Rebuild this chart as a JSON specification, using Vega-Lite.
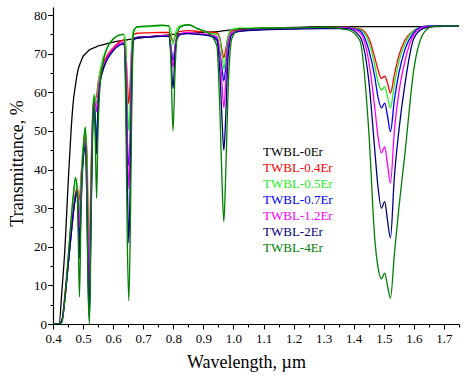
{
  "$schema": "https://vega.github.io/schema/vega-lite/v6.json",
  "width": 406,
  "height": 317,
  "autosize": {"type": "none"},
  "padding": {"left": 53, "top": 7, "right": 15, "bottom": 52},
  "background": "white",
  "config": {"view": {"stroke": null}, "font": "Liberation Serif"},
  "data": {"values": [
    {"x":0.40,"k0":0,"k04":0,"k05":0,"k07":0,"k12":0,"k2":0,"k4":0},
    {"x":0.42,"k0":0,"k04":0,"k05":0,"k07":0,"k12":0,"k2":0,"k4":0},
    {"x":0.43,"k0":9,"k04":1,"k05":1,"k07":1,"k12":1,"k2":1,"k4":0.5},
    {"x":0.44,"k0":20,"k04":8,"k05":7,"k07":7,"k12":7,"k2":7,"k4":7},
    {"x":0.45,"k0":36,"k04":16,"k05":16,"k07":15,"k12":15,"k2":15,"k4":17},
    {"x":0.46,"k0":50,"k04":24,"k05":26,"k07":23,"k12":23,"k2":23,"k4":27},
    {"x":0.468,"k0":58,"k04":30,"k05":33,"k07":29,"k12":29,"k2":29,"k4":34},
    {"x":0.475,"k0":62,"k04":34,"k05":37.5,"k07":33,"k12":33,"k2":33,"k4":38},
    {"x":0.48,"k0":64.5,"k04":35,"k05":36,"k07":34.5,"k12":34.5,"k2":34,"k4":35},
    {"x":0.484,"k0":66,"k04":34,"k05":33,"k07":30,"k12":31,"k2":28,"k4":22},
    {"x":0.488,"k0":67,"k04":32,"k05":29,"k07":22,"k12":25,"k2":17,"k4":7},
    {"x":0.493,"k0":68,"k04":38,"k05":37,"k07":33,"k12":34,"k2":30,"k4":28},
    {"x":0.50,"k0":69.3,"k04":45,"k05":46,"k07":43,"k12":43,"k2":42,"k4":44},
    {"x":0.508,"k0":70,"k04":49,"k05":51,"k07":47,"k12":47.5,"k2":46,"k4":51},
    {"x":0.513,"k0":70.4,"k04":44,"k05":42,"k07":35,"k12":38,"k2":30,"k4":28},
    {"x":0.517,"k0":70.7,"k04":28,"k05":25,"k07":15,"k12":20,"k2":10,"k4":8},
    {"x":0.521,"k0":71,"k04":18,"k05":14,"k07":4,"k12":9,"k2":1.5,"k4":0},
    {"x":0.526,"k0":71.2,"k04":38,"k05":36,"k07":28,"k12":32,"k2":25,"k4":22},
    {"x":0.532,"k0":71.4,"k04":54,"k05":55,"k07":52,"k12":53,"k2":51,"k4":52},
    {"x":0.537,"k0":71.6,"k04":58,"k05":59.5,"k07":57,"k12":58,"k2":56.5,"k4":59},
    {"x":0.541,"k0":71.7,"k04":58.5,"k05":58,"k07":53,"k12":57,"k2":50,"k4":46},
    {"x":0.545,"k0":71.8,"k04":59,"k05":57,"k07":46,"k12":55,"k2":44,"k4":32.6},
    {"x":0.549,"k0":72,"k04":62,"k05":61,"k07":55,"k12":59,"k2":54,"k4":48},
    {"x":0.555,"k0":72.1,"k04":64.5,"k05":65,"k07":62,"k12":63,"k2":61.5,"k4":60},
    {"x":0.565,"k0":72.3,"k04":67,"k05":68.5,"k07":65.5,"k12":66,"k2":65.5,"k4":67},
    {"x":0.58,"k0":72.6,"k04":69.5,"k05":71.5,"k07":68.5,"k12":69,"k2":68.5,"k4":71.5},
    {"x":0.60,"k0":73,"k04":71.5,"k05":73.8,"k07":70.8,"k12":71.2,"k2":70.8,"k4":73.8},
    {"x":0.62,"k0":73.3,"k04":73,"k05":74.8,"k07":72.2,"k12":72.6,"k2":72.2,"k4":74.8},
    {"x":0.635,"k0":73.5,"k04":73.5,"k05":75,"k07":72.6,"k12":73,"k2":72.5,"k4":75},
    {"x":0.642,"k0":73.6,"k04":71,"k05":73,"k07":66,"k12":68,"k2":62,"k4":55},
    {"x":0.647,"k0":73.6,"k04":63,"k05":58,"k07":48,"k12":48,"k2":38,"k4":22},
    {"x":0.652,"k0":73.7,"k04":57,"k05":50,"k07":41,"k12":35,"k2":21,"k4":6},
    {"x":0.657,"k0":73.7,"k04":63,"k05":58,"k07":50,"k12":48,"k2":38,"k4":24},
    {"x":0.662,"k0":73.8,"k04":72,"k05":73,"k07":68,"k12":68,"k2":63,"k4":56},
    {"x":0.668,"k0":73.8,"k04":75,"k05":76.3,"k07":73.8,"k12":74,"k2":73.5,"k4":75.5},
    {"x":0.68,"k0":74,"k04":75.3,"k05":76.8,"k07":74.2,"k12":74.2,"k2":74.2,"k4":77},
    {"x":0.72,"k0":74.4,"k04":75.4,"k05":77,"k07":74.4,"k12":74.4,"k2":74.3,"k4":77.2},
    {"x":0.76,"k0":74.7,"k04":75.5,"k05":77.2,"k07":74.6,"k12":74.6,"k2":74.5,"k4":77.4},
    {"x":0.785,"k0":74.9,"k04":75.5,"k05":77.2,"k07":74.7,"k12":74.7,"k2":74.5,"k4":77.2},
    {"x":0.792,"k0":75,"k04":74.5,"k05":76,"k07":72,"k12":72,"k2":70,"k4":68},
    {"x":0.799,"k0":75,"k04":73,"k05":72.5,"k07":68,"k12":66.5,"k2":61,"k4":50},
    {"x":0.806,"k0":75,"k04":74.5,"k05":75,"k07":72,"k12":72,"k2":70,"k4":66},
    {"x":0.813,"k0":75.1,"k04":75.5,"k05":76.5,"k07":74.5,"k12":74.5,"k2":74,"k4":75},
    {"x":0.825,"k0":75.2,"k04":75.8,"k05":77.3,"k07":75.2,"k12":75.2,"k2":75,"k4":77},
    {"x":0.85,"k0":75.3,"k04":76,"k05":77.5,"k07":75.3,"k12":75.5,"k2":75.2,"k4":77.5},
    {"x":0.88,"k0":75.4,"k04":75.8,"k05":76.5,"k07":75.1,"k12":75.2,"k2":75,"k4":76.5},
    {"x":0.92,"k0":75.6,"k04":75.6,"k05":75.3,"k07":74.8,"k12":75,"k2":74.6,"k4":75.2},
    {"x":0.945,"k0":75.7,"k04":75.4,"k05":75,"k07":74,"k12":74.4,"k2":73.5,"k4":72},
    {"x":0.955,"k0":75.8,"k04":74,"k05":73.5,"k07":70,"k12":70,"k2":65,"k4":55},
    {"x":0.962,"k0":75.9,"k04":71,"k05":69.5,"k07":66,"k12":62,"k2":53,"k4":37},
    {"x":0.968,"k0":76,"k04":69,"k05":66,"k07":63,"k12":56,"k2":45,"k4":26.5},
    {"x":0.974,"k0":76,"k04":71,"k05":69,"k07":66,"k12":62,"k2":53,"k4":38},
    {"x":0.982,"k0":76.1,"k04":74.5,"k05":74.5,"k07":72.5,"k12":72,"k2":69,"k4":60},
    {"x":0.995,"k0":76.2,"k04":76,"k05":76.3,"k07":75.5,"k12":75.5,"k2":75,"k4":74},
    {"x":1.02,"k0":76.3,"k04":76.4,"k05":76.6,"k07":76,"k12":76,"k2":75.8,"k4":76.5},
    {"x":1.10,"k0":76.6,"k04":76.6,"k05":76.6,"k07":76.3,"k12":76.3,"k2":76.2,"k4":76.6},
    {"x":1.20,"k0":76.8,"k04":76.7,"k05":76.7,"k07":76.5,"k12":76.5,"k2":76.4,"k4":76.7},
    {"x":1.30,"k0":77,"k04":76.8,"k05":76.8,"k07":76.6,"k12":76.6,"k2":76.5,"k4":76.8},
    {"x":1.38,"k0":77,"k04":76.8,"k05":76.8,"k07":76.7,"k12":76.7,"k2":76.5,"k4":76.2},
    {"x":1.42,"k0":77,"k04":76.5,"k05":76.3,"k07":76,"k12":75.5,"k2":74.5,"k4":73.5},
    {"x":1.45,"k0":77,"k04":74,"k05":73,"k07":71,"k12":68,"k2":63,"k4":50},
    {"x":1.47,"k0":77,"k04":69,"k05":67,"k07":64,"k12":56,"k2":45,"k4":22},
    {"x":1.48,"k0":77,"k04":66,"k05":63,"k07":59,"k12":49,"k2":36,"k4":15},
    {"x":1.492,"k0":77,"k04":63.6,"k05":60.6,"k07":56,"k12":44.3,"k2":30,"k4":11.7},
    {"x":1.503,"k0":77,"k04":64.2,"k05":61.5,"k07":57.2,"k12":45.9,"k2":31.7,"k4":13.2},
    {"x":1.512,"k0":77,"k04":62.5,"k05":59,"k07":54,"k12":41.5,"k2":27,"k4":10},
    {"x":1.522,"k0":77,"k04":59.8,"k05":56,"k07":49.8,"k12":36.5,"k2":22.3,"k4":6.7},
    {"x":1.535,"k0":77,"k04":64.5,"k05":62,"k07":58,"k12":50,"k2":38,"k4":18},
    {"x":1.55,"k0":77,"k04":69.5,"k05":68,"k07":65,"k12":60,"k2":50,"k4":30},
    {"x":1.57,"k0":77,"k04":73.5,"k05":72.5,"k07":71,"k12":68,"k2":62,"k4":44},
    {"x":1.60,"k0":77,"k04":76,"k05":76,"k07":75.5,"k12":75,"k2":74,"k4":66},
    {"x":1.63,"k0":77,"k04":77,"k05":77,"k07":77,"k12":76.8,"k2":76.5,"k4":75},
    {"x":1.66,"k0":77,"k04":77.2,"k05":77.2,"k07":77.2,"k12":77.1,"k2":77,"k4":77},
    {"x":1.70,"k0":77.1,"k04":77.2,"k05":77.2,"k07":77.2,"k12":77.2,"k2":77.2,"k4":77.2},
    {"x":1.75,"k0":77.1,"k04":77.2,"k05":77.2,"k07":77.2,"k12":77.2,"k2":77.2,"k4":77.2}
  ]},
  "transform": [{"fold": ["k0","k04","k05","k07","k12","k2","k4"], "as": ["series","T"]}],
  "mark": {"type": "line", "interpolate": "monotone", "strokeWidth": 1.3, "clip": true},
  "encoding": {
    "x": {
      "field": "x", "type": "quantitative",
      "scale": {"domain": [0.4, 1.75], "nice": false, "zero": false},
      "axis": {
        "values": [0.4,0.45,0.5,0.55,0.6,0.65,0.7,0.75,0.8,0.85,0.9,0.95,1.0,1.05,1.1,1.15,1.2,1.25,1.3,1.35,1.4,1.45,1.5,1.55,1.6,1.65,1.7,1.75],
        "labelExpr": "round(datum.value*100) % 10 == 0 ? format(datum.value, '.1f') : ''",
        "tickSize": {"condition": {"test": "round(datum.value*100) % 10 == 0", "value": 5}, "value": 3},
        "grid": false,
        "labelOverlap": false,
        "labelFlush": false,
        "labelFont": "Liberation Serif",
        "labelFontSize": 13,
        "labelColor": "black",
        "labelPadding": 3,
        "domainColor": "black",
        "domainWidth": 1.2,
        "tickColor": "black",
        "tickWidth": 1.1,
        "title": "Wavelength, µm",
        "titleFont": "Liberation Serif",
        "titleFontSize": 18,
        "titleFontWeight": "normal",
        "titleColor": "black",
        "titleX": 193,
        "titleY": 43,
        "titleBaseline": "alphabetic"
      }
    },
    "y": {
      "field": "T", "type": "quantitative",
      "scale": {"domain": [0, 82.1], "nice": false},
      "axis": {
        "values": [0,5,10,15,20,25,30,35,40,45,50,55,60,65,70,75,80],
        "labelExpr": "datum.value % 10 == 0 ? datum.label : ''",
        "tickSize": {"condition": {"test": "datum.value % 10 == 0", "value": 5.5}, "value": 3},
        "grid": false,
        "labelOverlap": false,
        "labelFlush": false,
        "labelFont": "Liberation Serif",
        "labelFontSize": 13,
        "labelColor": "black",
        "labelPadding": 1,
        "domainColor": "black",
        "domainWidth": 1.2,
        "tickColor": "black",
        "tickWidth": 1.1,
        "title": "Transmittance, %",
        "titleFont": "Liberation Serif",
        "titleFontSize": 18,
        "titleFontWeight": "normal",
        "titleColor": "black",
        "titleAngle": -90,
        "titleX": -36,
        "titleY": 156,
        "titleBaseline": "middle",
        "titleAlign": "center"
      }
    },
    "color": {
      "field": "series", "type": "nominal",
      "scale": {
        "domain": ["k0","k04","k05","k07","k12","k2","k4"],
        "range": ["#000000","#ff0000","#22ee22","#0000ff","#ff00ff","#000080","#007f00"]
      },
      "legend": {
        "orient": "none",
        "legendX": 197,
        "legendY": 138,
        "title": null,
        "padding": 0,
        "symbolSize": 0,
        "symbolOpacity": 0,
        "symbolStrokeWidth": 0,
        "labelOffset": 0,
        "labelFont": "Liberation Serif",
        "labelFontSize": 13,
        "labelColor": {"expr": "scale('color', datum.value)"},
        "labelExpr": "{'k0':'TWBL-0Er','k04':'TWBL-0.4Er','k05':'TWBL-0.5Er','k07':'TWBL-0.7Er','k12':'TWBL-1.2Er','k2':'TWBL-2Er','k4':'TWBL-4Er'}[datum.value]",
        "rowPadding": 2
      }
    }
  }
}
